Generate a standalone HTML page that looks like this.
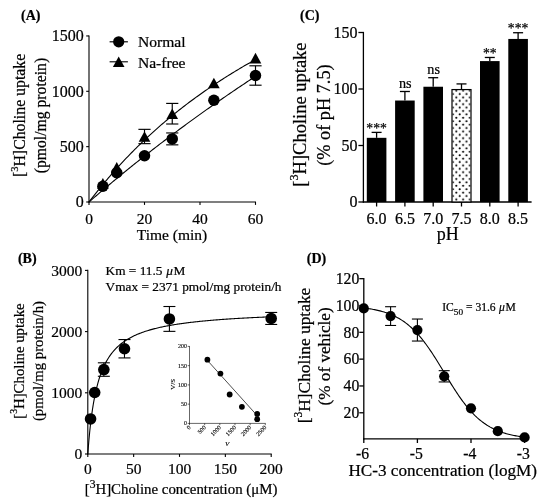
<!DOCTYPE html>
<html><head><meta charset="utf-8"><title>Choline uptake figure</title>
<style>html,body{margin:0;padding:0;background:#fff}svg{display:block}text{font-family:'Liberation Serif', 'DejaVu Serif', serif;fill:#000}text{stroke:#000;stroke-width:0.22px} text.s{stroke-width:0.12px}</style>
</head><body>
<svg width="550" height="504" viewBox="0 0 550 504">
<rect width="550" height="504" fill="#fff"/>
<text x="21.00" y="20.40" font-size="14" text-anchor="start" font-weight="bold">(A)</text>
<line x1="89.00" y1="35.40" x2="89.00" y2="202.55" stroke="#000" stroke-width="1.1" />
<line x1="88.45" y1="202.00" x2="256.05" y2="202.00" stroke="#000" stroke-width="1.1" />
<line x1="86.20" y1="202.00" x2="89.00" y2="202.00" stroke="#000" stroke-width="1.1" />
<text x="83.70" y="207.30" font-size="16" text-anchor="end" >0</text>
<line x1="86.20" y1="146.65" x2="89.00" y2="146.65" stroke="#000" stroke-width="1.1" />
<text x="83.70" y="151.95" font-size="16" text-anchor="end" >500</text>
<line x1="86.20" y1="91.30" x2="89.00" y2="91.30" stroke="#000" stroke-width="1.1" />
<text x="83.70" y="96.60" font-size="16" text-anchor="end" >1000</text>
<line x1="86.20" y1="35.95" x2="89.00" y2="35.95" stroke="#000" stroke-width="1.1" />
<text x="83.70" y="41.25" font-size="16" text-anchor="end" >1500</text>
<line x1="89.00" y1="202.00" x2="89.00" y2="204.90" stroke="#000" stroke-width="1.1" />
<text x="89.00" y="223.80" font-size="15.5" text-anchor="middle" >0</text>
<line x1="144.50" y1="202.00" x2="144.50" y2="204.90" stroke="#000" stroke-width="1.1" />
<text x="144.50" y="223.80" font-size="15.5" text-anchor="middle" >20</text>
<line x1="200.00" y1="202.00" x2="200.00" y2="204.90" stroke="#000" stroke-width="1.1" />
<text x="200.00" y="223.80" font-size="15.5" text-anchor="middle" >40</text>
<line x1="255.50" y1="202.00" x2="255.50" y2="204.90" stroke="#000" stroke-width="1.1" />
<text x="255.50" y="223.80" font-size="15.5" text-anchor="middle" >60</text>
<text x="172.00" y="239.60" font-size="15.5" text-anchor="middle" >Time (min)</text>
<text transform="translate(24.50,115.40) rotate(-90)" font-size="15.8" text-anchor="middle" >[<tspan font-size="0.66em" dy="-0.652em">3</tspan><tspan dy="0.430em">H]Choline uptake</tspan></text>
<text transform="translate(46.40,115.60) rotate(-90)" font-size="15.7" text-anchor="middle" >(pmol/mg protein)</text>
<path d="M89.00,202.00 L90.39,200.79 L91.78,199.59 L93.16,198.39 L94.55,197.20 L95.94,196.00 L97.33,194.81 L98.71,193.63 L100.10,192.44 L101.49,191.26 L102.88,190.08 L104.26,188.91 L105.65,187.73 L107.04,186.56 L108.42,185.40 L109.81,184.23 L111.20,183.07 L112.59,181.92 L113.97,180.76 L115.36,179.61 L116.75,178.46 L118.14,177.31 L119.53,176.17 L120.91,175.03 L122.30,173.89 L123.69,172.76 L125.07,171.62 L126.46,170.49 L127.85,169.37 L129.24,168.24 L130.62,167.12 L132.01,166.00 L133.40,164.89 L134.79,163.77 L136.18,162.66 L137.56,161.56 L138.95,160.45 L140.34,159.35 L141.72,158.25 L143.11,157.15 L144.50,156.06 L145.89,154.97 L147.28,153.88 L148.66,152.79 L150.05,151.71 L151.44,150.63 L152.82,149.55 L154.21,148.47 L155.60,147.40 L156.99,146.33 L158.38,145.26 L159.76,144.19 L161.15,143.13 L162.54,142.07 L163.93,141.01 L165.31,139.96 L166.70,138.90 L168.09,137.85 L169.47,136.81 L170.86,135.76 L172.25,134.72 L173.64,133.68 L175.02,132.64 L176.41,131.60 L177.80,130.57 L179.19,129.54 L180.57,128.51 L181.96,127.48 L183.35,126.46 L184.74,125.44 L186.12,124.42 L187.51,123.40 L188.90,122.39 L190.29,121.38 L191.68,120.37 L193.06,119.36 L194.45,118.36 L195.84,117.35 L197.22,116.35 L198.61,115.36 L200.00,114.36 L201.39,113.37 L202.77,112.38 L204.16,111.39 L205.55,110.40 L206.94,109.42 L208.32,108.44 L209.71,107.46 L211.10,106.48 L212.49,105.50 L213.88,104.53 L215.26,103.56 L216.65,102.59 L218.04,101.63 L219.42,100.66 L220.81,99.70 L222.20,98.74 L223.59,97.78 L224.97,96.83 L226.36,95.87 L227.75,94.92 L229.14,93.97 L230.53,93.03 L231.91,92.08 L233.30,91.14 L234.69,90.20 L236.07,89.26 L237.46,88.33 L238.85,87.39 L240.24,86.46 L241.62,85.53 L243.01,84.60 L244.40,83.68 L245.79,82.75 L247.17,81.83 L248.56,80.91 L249.95,79.99 L251.34,79.08 L252.72,78.17 L254.11,77.25 L255.50,76.34" fill="none" stroke="#000" stroke-width="1.1"/>
<path d="M89.00,202.00 L90.39,200.18 L91.78,198.37 L93.16,196.59 L94.55,194.81 L95.94,193.06 L97.33,191.31 L98.71,189.59 L100.10,187.88 L101.49,186.18 L102.88,184.50 L104.26,182.83 L105.65,181.18 L107.04,179.54 L108.42,177.91 L109.81,176.30 L111.20,174.70 L112.59,173.12 L113.97,171.55 L115.36,169.99 L116.75,168.44 L118.14,166.91 L119.53,165.39 L120.91,163.88 L122.30,162.39 L123.69,160.90 L125.07,159.43 L126.46,157.97 L127.85,156.52 L129.24,155.09 L130.62,153.66 L132.01,152.25 L133.40,150.84 L134.79,149.45 L136.18,148.07 L137.56,146.70 L138.95,145.34 L140.34,143.99 L141.72,142.65 L143.11,141.33 L144.50,140.01 L145.89,138.70 L147.28,137.40 L148.66,136.11 L150.05,134.83 L151.44,133.57 L152.82,132.31 L154.21,131.05 L155.60,129.81 L156.99,128.58 L158.38,127.36 L159.76,126.14 L161.15,124.94 L162.54,123.74 L163.93,122.56 L165.31,121.38 L166.70,120.21 L168.09,119.04 L169.47,117.89 L170.86,116.74 L172.25,115.61 L173.64,114.48 L175.02,113.36 L176.41,112.24 L177.80,111.14 L179.19,110.04 L180.57,108.95 L181.96,107.86 L183.35,106.79 L184.74,105.72 L186.12,104.66 L187.51,103.61 L188.90,102.56 L190.29,101.52 L191.68,100.49 L193.06,99.46 L194.45,98.44 L195.84,97.43 L197.22,96.43 L198.61,95.43 L200.00,94.44 L201.39,93.45 L202.77,92.47 L204.16,91.50 L205.55,90.54 L206.94,89.58 L208.32,88.62 L209.71,87.68 L211.10,86.73 L212.49,85.80 L213.88,84.87 L215.26,83.95 L216.65,83.03 L218.04,82.12 L219.42,81.21 L220.81,80.31 L222.20,79.42 L223.59,78.53 L224.97,77.65 L226.36,76.77 L227.75,75.90 L229.14,75.03 L230.53,74.17 L231.91,73.31 L233.30,72.46 L234.69,71.62 L236.07,70.78 L237.46,69.94 L238.85,69.11 L240.24,68.29 L241.62,67.47 L243.01,66.65 L244.40,65.84 L245.79,65.03 L247.17,64.23 L248.56,63.44 L249.95,62.65 L251.34,61.86 L252.72,61.08 L254.11,60.30 L255.50,59.53" fill="none" stroke="#000" stroke-width="1.1"/>
<line x1="144.50" y1="129.35" x2="144.50" y2="143.65" stroke="#000" stroke-width="1.15" />
<line x1="138.40" y1="129.35" x2="150.60" y2="129.35" stroke="#000" stroke-width="1.15" />
<line x1="138.40" y1="143.65" x2="150.60" y2="143.65" stroke="#000" stroke-width="1.15" />
<line x1="172.25" y1="103.40" x2="172.25" y2="124.00" stroke="#000" stroke-width="1.15" />
<line x1="166.15" y1="103.40" x2="178.35" y2="103.40" stroke="#000" stroke-width="1.15" />
<line x1="166.15" y1="124.00" x2="178.35" y2="124.00" stroke="#000" stroke-width="1.15" />
<line x1="172.25" y1="132.95" x2="172.25" y2="144.85" stroke="#000" stroke-width="1.15" />
<line x1="166.15" y1="132.95" x2="178.35" y2="132.95" stroke="#000" stroke-width="1.15" />
<line x1="166.15" y1="144.85" x2="178.35" y2="144.85" stroke="#000" stroke-width="1.15" />
<line x1="255.50" y1="65.80" x2="255.50" y2="85.20" stroke="#000" stroke-width="1.15" />
<line x1="249.40" y1="65.80" x2="261.60" y2="65.80" stroke="#000" stroke-width="1.15" />
<line x1="249.40" y1="85.20" x2="261.60" y2="85.20" stroke="#000" stroke-width="1.15" />
<polygon points="102.88,178.10 97.08,188.70 108.67,188.70" fill="#000"/>
<polygon points="116.75,162.10 110.95,172.70 122.55,172.70" fill="#000"/>
<polygon points="144.50,131.20 138.70,141.80 150.30,141.80" fill="#000"/>
<polygon points="172.25,108.40 166.45,119.00 178.05,119.00" fill="#000"/>
<polygon points="213.88,77.75 208.07,88.35 219.68,88.35" fill="#000"/>
<polygon points="255.50,52.85 249.70,63.45 261.30,63.45" fill="#000"/>
<circle cx="102.88" cy="186.20" r="5.75" fill="#000"/>
<circle cx="116.75" cy="172.70" r="5.75" fill="#000"/>
<circle cx="144.50" cy="155.70" r="5.75" fill="#000"/>
<circle cx="172.25" cy="138.90" r="5.75" fill="#000"/>
<circle cx="213.88" cy="100.30" r="5.75" fill="#000"/>
<circle cx="255.50" cy="75.50" r="5.75" fill="#000"/>
<line x1="109.60" y1="41.80" x2="127.90" y2="41.80" stroke="#000" stroke-width="1.15" />
<circle cx="118.70" cy="41.80" r="5.6" fill="#000"/>
<line x1="109.60" y1="61.80" x2="127.90" y2="61.80" stroke="#000" stroke-width="1.1" />
<polygon points="118.70,56.50 112.90,67.10 124.50,67.10" fill="#000"/>
<text x="137.90" y="47.40" font-size="15.6" text-anchor="start" >Normal</text>
<text x="137.90" y="68.00" font-size="15.6" text-anchor="start" >Na-free</text>
<text x="300.00" y="20.40" font-size="14" text-anchor="start" font-weight="bold">(C)</text>
<line x1="363.40" y1="31.90" x2="363.40" y2="202.60" stroke="#000" stroke-width="1.3" />
<line x1="362.80" y1="202.00" x2="531.60" y2="202.00" stroke="#000" stroke-width="1.3" />
<line x1="358.40" y1="202.00" x2="363.40" y2="202.00" stroke="#000" stroke-width="1.3" />
<text x="357.40" y="207.40" font-size="16" text-anchor="end" >0</text>
<line x1="358.40" y1="145.50" x2="363.40" y2="145.50" stroke="#000" stroke-width="1.3" />
<text x="357.40" y="150.90" font-size="16" text-anchor="end" >50</text>
<line x1="358.40" y1="89.00" x2="363.40" y2="89.00" stroke="#000" stroke-width="1.3" />
<text x="357.40" y="94.40" font-size="16" text-anchor="end" >100</text>
<line x1="358.40" y1="32.50" x2="363.40" y2="32.50" stroke="#000" stroke-width="1.3" />
<text x="357.40" y="37.90" font-size="16" text-anchor="end" >150</text>
<defs><pattern id="dots" x="451.26" y="88.9" width="6.75" height="6.8" patternUnits="userSpaceOnUse"><circle cx="5.09" cy="1.7" r="1.08" fill="#000"/><circle cx="1.69" cy="5.1" r="1.08" fill="#000"/></pattern></defs>
<line x1="376.60" y1="132.39" x2="376.60" y2="137.82" stroke="#000" stroke-width="1.3" />
<line x1="371.60" y1="132.39" x2="381.60" y2="132.39" stroke="#000" stroke-width="1.3" />
<rect x="366.80" y="137.82" width="19.6" height="64.18" fill="#000"/>
<line x1="376.60" y1="202.00" x2="376.60" y2="206.50" stroke="#000" stroke-width="1.3" />
<text x="376.60" y="223.80" font-size="16" text-anchor="middle" >6.0</text>
<text x="376.60" y="132.69" font-size="13.7" text-anchor="middle" >***</text>
<line x1="404.90" y1="91.49" x2="404.90" y2="100.53" stroke="#000" stroke-width="1.3" />
<line x1="399.90" y1="91.49" x2="409.90" y2="91.49" stroke="#000" stroke-width="1.3" />
<rect x="395.10" y="100.53" width="19.6" height="101.47" fill="#000"/>
<line x1="404.90" y1="202.00" x2="404.90" y2="206.50" stroke="#000" stroke-width="1.3" />
<text x="404.90" y="223.80" font-size="16" text-anchor="middle" >6.5</text>
<text x="405.30" y="88.09" font-size="14.2" text-anchor="middle" >ns</text>
<line x1="433.20" y1="77.70" x2="433.20" y2="86.74" stroke="#000" stroke-width="1.3" />
<line x1="428.20" y1="77.70" x2="438.20" y2="77.70" stroke="#000" stroke-width="1.3" />
<rect x="423.40" y="86.74" width="19.6" height="115.26" fill="#000"/>
<line x1="433.20" y1="202.00" x2="433.20" y2="206.50" stroke="#000" stroke-width="1.3" />
<text x="433.20" y="223.80" font-size="16" text-anchor="middle" >7.0</text>
<text x="433.60" y="74.30" font-size="14.2" text-anchor="middle" >ns</text>
<line x1="461.50" y1="83.92" x2="461.50" y2="89.57" stroke="#000" stroke-width="1.3" />
<line x1="456.50" y1="83.92" x2="466.50" y2="83.92" stroke="#000" stroke-width="1.3" />
<rect x="452.00" y="89.57" width="19" height="112.43" fill="#fff" stroke="#000" stroke-width="1.2"/>
<rect x="452.50" y="90.17" width="18" height="111.23" fill="url(#dots)"/>
<line x1="461.50" y1="202.00" x2="461.50" y2="206.50" stroke="#000" stroke-width="1.3" />
<text x="461.50" y="223.80" font-size="16" text-anchor="middle" >7.5</text>
<line x1="489.80" y1="57.47" x2="489.80" y2="61.09" stroke="#000" stroke-width="1.3" />
<line x1="484.80" y1="57.47" x2="494.80" y2="57.47" stroke="#000" stroke-width="1.3" />
<rect x="480.00" y="61.09" width="19.6" height="140.91" fill="#000"/>
<line x1="489.80" y1="202.00" x2="489.80" y2="206.50" stroke="#000" stroke-width="1.3" />
<text x="489.80" y="223.80" font-size="16" text-anchor="middle" >8.0</text>
<text x="489.80" y="57.77" font-size="13.7" text-anchor="middle" >**</text>
<line x1="518.10" y1="32.73" x2="518.10" y2="38.94" stroke="#000" stroke-width="1.3" />
<line x1="513.10" y1="32.73" x2="523.10" y2="32.73" stroke="#000" stroke-width="1.3" />
<rect x="508.30" y="38.94" width="19.6" height="163.06" fill="#000"/>
<line x1="518.10" y1="202.00" x2="518.10" y2="206.50" stroke="#000" stroke-width="1.3" />
<text x="518.10" y="223.80" font-size="16" text-anchor="middle" >8.5</text>
<text x="518.10" y="33.03" font-size="13.7" text-anchor="middle" >***</text>
<text x="447.70" y="239.80" font-size="18" text-anchor="middle" >pH</text>
<text transform="translate(306.40,114.60) rotate(-90)" font-size="18.5" text-anchor="middle" >[<tspan font-size="0.66em" dy="-0.652em">3</tspan><tspan dy="0.430em">H]Choline uptake</tspan></text>
<text transform="translate(329.50,115.10) rotate(-90)" font-size="18.3" text-anchor="middle" >(% of pH 7.5)</text>
<text x="17.90" y="263.10" font-size="14" text-anchor="start" font-weight="bold">(B)</text>
<line x1="87.80" y1="269.85" x2="87.80" y2="454.55" stroke="#000" stroke-width="1.1" />
<line x1="87.25" y1="454.00" x2="271.75" y2="454.00" stroke="#000" stroke-width="1.1" />
<line x1="85.00" y1="454.00" x2="87.80" y2="454.00" stroke="#000" stroke-width="1.1" />
<text x="82.30" y="459.20" font-size="15.5" text-anchor="end" >0</text>
<line x1="85.00" y1="392.80" x2="87.80" y2="392.80" stroke="#000" stroke-width="1.1" />
<text x="82.30" y="398.00" font-size="15.5" text-anchor="end" >1000</text>
<line x1="85.00" y1="331.60" x2="87.80" y2="331.60" stroke="#000" stroke-width="1.1" />
<text x="82.30" y="336.80" font-size="15.5" text-anchor="end" >2000</text>
<line x1="85.00" y1="270.40" x2="87.80" y2="270.40" stroke="#000" stroke-width="1.1" />
<text x="82.30" y="275.60" font-size="15.5" text-anchor="end" >3000</text>
<line x1="87.80" y1="454.00" x2="87.80" y2="456.90" stroke="#000" stroke-width="1.1" />
<text x="87.80" y="474.30" font-size="15.5" text-anchor="middle" >0</text>
<line x1="133.65" y1="454.00" x2="133.65" y2="456.90" stroke="#000" stroke-width="1.1" />
<text x="133.65" y="474.30" font-size="15.5" text-anchor="middle" >50</text>
<line x1="179.50" y1="454.00" x2="179.50" y2="456.90" stroke="#000" stroke-width="1.1" />
<text x="179.50" y="474.30" font-size="15.5" text-anchor="middle" >100</text>
<line x1="225.35" y1="454.00" x2="225.35" y2="456.90" stroke="#000" stroke-width="1.1" />
<text x="225.35" y="474.30" font-size="15.5" text-anchor="middle" >150</text>
<line x1="271.20" y1="454.00" x2="271.20" y2="456.90" stroke="#000" stroke-width="1.1" />
<text x="271.20" y="474.30" font-size="15.5" text-anchor="middle" >200</text>
<text x="84.70" y="494.20" font-size="14.85" text-anchor="start" >[<tspan font-size="0.78em" dy="-0.564em">3</tspan><tspan dy="0.440em">H]Choline concentration (μM)</tspan></text>
<text transform="translate(23.80,361.10) rotate(-90)" font-size="14.8" text-anchor="middle" >[<tspan font-size="0.66em" dy="-0.652em">3</tspan><tspan dy="0.430em">H]Choline uptake</tspan></text>
<text transform="translate(42.50,361.10) rotate(-90)" font-size="14.75" text-anchor="middle" >(pmol/mg protein/h)</text>
<text x="105.60" y="274.90" font-size="13.3" text-anchor="start" >Km = 11.5 <tspan font-style="italic" dx="0.4">μ</tspan><tspan dx="0.6">M</tspan></text>
<text x="105.60" y="290.70" font-size="13.3" text-anchor="start" >Vmax = 2371 pmol/mg protein/h</text>
<path d="M87.80,454.00 L88.03,450.91 L88.26,447.95 L88.49,445.12 L88.72,442.39 L88.95,439.77 L89.18,437.26 L89.40,434.84 L89.63,432.50 L89.86,430.26 L90.09,428.09 L90.32,426.00 L90.55,423.98 L90.78,422.03 L91.01,420.14 L91.24,418.32 L91.47,416.55 L91.70,414.84 L91.93,413.19 L92.16,411.58 L92.38,410.03 L92.61,408.52 L92.84,407.05 L93.07,405.63 L93.30,404.25 L93.53,402.91 L93.76,401.60 L93.99,400.33 L94.22,399.10 L94.45,397.89 L94.68,396.72 L94.91,395.58 L95.14,394.47 L95.37,393.39 L95.59,392.33 L95.82,391.30 L96.05,390.30 L96.28,389.31 L96.51,388.36 L96.74,387.42 L96.97,386.51 L97.89,383.06 L98.80,379.90 L99.72,377.01 L100.64,374.33 L101.55,371.86 L102.47,369.58 L103.39,367.45 L104.31,365.46 L105.22,363.61 L106.14,361.87 L107.06,360.24 L107.97,358.71 L108.89,357.26 L109.81,355.90 L110.72,354.61 L111.64,353.39 L112.56,352.24 L113.48,351.14 L114.39,350.10 L115.31,349.10 L116.23,348.16 L117.14,347.26 L118.06,346.39 L118.98,345.57 L119.89,344.78 L120.81,344.03 L121.73,343.30 L122.65,342.61 L123.56,341.94 L124.48,341.30 L125.40,340.68 L126.31,340.09 L127.23,339.51 L128.15,338.96 L129.06,338.43 L129.98,337.92 L130.90,337.42 L131.82,336.94 L132.73,336.48 L133.65,336.03 L134.57,335.59 L135.48,335.17 L136.40,334.77 L137.32,334.37 L138.24,333.99 L139.15,333.62 L140.07,333.26 L140.99,332.91 L141.90,332.56 L142.82,332.23 L143.74,331.91 L144.65,331.60 L145.57,331.29 L146.49,331.00 L147.41,330.71 L148.32,330.43 L149.24,330.15 L150.16,329.88 L151.07,329.62 L151.99,329.37 L152.91,329.12 L153.82,328.88 L154.74,328.64 L155.66,328.41 L156.57,328.19 L157.49,327.97 L158.41,327.75 L159.33,327.54 L160.24,327.33 L161.16,327.13 L162.08,326.93 L162.99,326.74 L163.91,326.55 L164.83,326.37 L165.75,326.19 L166.66,326.01 L167.58,325.84 L168.50,325.67 L169.41,325.50 L170.33,325.34 L171.25,325.17 L172.16,325.02 L173.08,324.86 L174.00,324.71 L174.92,324.56 L175.83,324.42 L176.75,324.27 L177.67,324.13 L178.58,324.00 L179.50,323.86 L180.42,323.73 L181.33,323.60 L182.25,323.47 L183.17,323.34 L184.09,323.22 L185.00,323.10 L185.92,322.98 L186.84,322.86 L187.75,322.74 L188.67,322.63 L189.59,322.52 L190.50,322.41 L191.42,322.30 L192.34,322.19 L193.25,322.09 L194.17,321.98 L195.09,321.88 L196.01,321.78 L196.92,321.68 L197.84,321.58 L198.76,321.49 L199.67,321.39 L200.59,321.30 L201.51,321.21 L202.43,321.12 L203.34,321.03 L204.26,320.94 L205.18,320.86 L206.09,320.77 L207.01,320.69 L207.93,320.61 L208.84,320.52 L209.76,320.44 L210.68,320.36 L211.59,320.29 L212.51,320.21 L213.43,320.13 L214.35,320.06 L215.26,319.98 L216.18,319.91 L217.10,319.84 L218.01,319.77 L218.93,319.70 L219.85,319.63 L220.76,319.56 L221.68,319.49 L222.60,319.42 L223.52,319.36 L224.43,319.29 L225.35,319.23 L226.27,319.16 L227.18,319.10 L228.10,319.04 L229.02,318.98 L229.94,318.92 L230.85,318.86 L231.77,318.80 L232.69,318.74 L233.60,318.68 L234.52,318.62 L235.44,318.57 L236.35,318.51 L237.27,318.46 L238.19,318.40 L239.11,318.35 L240.02,318.30 L240.94,318.24 L241.86,318.19 L242.77,318.14 L243.69,318.09 L244.61,318.04 L245.52,317.99 L246.44,317.94 L247.36,317.89 L248.27,317.84 L249.19,317.79 L250.11,317.75 L251.03,317.70 L251.94,317.65 L252.86,317.61 L253.78,317.56 L254.69,317.52 L255.61,317.47 L256.53,317.43 L257.44,317.39 L258.36,317.34 L259.28,317.30 L260.20,317.26 L261.11,317.22 L262.03,317.18 L262.95,317.14 L263.86,317.09 L264.78,317.05 L265.70,317.02 L266.62,316.98 L267.53,316.94 L268.45,316.90 L269.37,316.86 L270.28,316.82 L271.20,316.78" fill="none" stroke="#000" stroke-width="1.1"/>
<line x1="103.85" y1="362.81" x2="103.85" y2="376.28" stroke="#000" stroke-width="1.1" />
<line x1="97.85" y1="362.81" x2="109.85" y2="362.81" stroke="#000" stroke-width="1.1" />
<line x1="97.85" y1="376.28" x2="109.85" y2="376.28" stroke="#000" stroke-width="1.1" />
<line x1="124.48" y1="339.56" x2="124.48" y2="357.92" stroke="#000" stroke-width="1.1" />
<line x1="118.48" y1="339.56" x2="130.48" y2="339.56" stroke="#000" stroke-width="1.1" />
<line x1="118.48" y1="357.92" x2="130.48" y2="357.92" stroke="#000" stroke-width="1.1" />
<line x1="169.41" y1="306.51" x2="169.41" y2="331.36" stroke="#000" stroke-width="1.1" />
<line x1="163.41" y1="306.51" x2="175.41" y2="306.51" stroke="#000" stroke-width="1.1" />
<line x1="163.41" y1="331.36" x2="175.41" y2="331.36" stroke="#000" stroke-width="1.1" />
<line x1="271.20" y1="312.44" x2="271.20" y2="324.44" stroke="#000" stroke-width="1.1" />
<line x1="265.20" y1="312.44" x2="277.20" y2="312.44" stroke="#000" stroke-width="1.1" />
<line x1="265.20" y1="324.44" x2="277.20" y2="324.44" stroke="#000" stroke-width="1.1" />
<circle cx="90.55" cy="418.93" r="5.8" fill="#000"/>
<circle cx="94.68" cy="392.49" r="5.8" fill="#000"/>
<circle cx="103.85" cy="369.54" r="5.8" fill="#000"/>
<circle cx="124.48" cy="348.74" r="5.8" fill="#000"/>
<circle cx="169.41" cy="318.93" r="5.8" fill="#000"/>
<circle cx="271.20" cy="318.44" r="5.8" fill="#000"/>
<line x1="189.50" y1="346.10" x2="189.50" y2="423.70" stroke="#000" stroke-width="0.6" />
<line x1="189.20" y1="423.40" x2="265.60" y2="423.40" stroke="#000" stroke-width="0.6" />
<line x1="187.70" y1="423.40" x2="189.50" y2="423.40" stroke="#000" stroke-width="0.6" />
<text x="186.90" y="425.40" font-size="6" text-anchor="end" class="s">0</text>
<line x1="187.70" y1="404.15" x2="189.50" y2="404.15" stroke="#000" stroke-width="0.6" />
<text x="186.90" y="406.15" font-size="6" text-anchor="end" class="s">50</text>
<line x1="187.70" y1="384.90" x2="189.50" y2="384.90" stroke="#000" stroke-width="0.6" />
<text x="186.90" y="386.90" font-size="6" text-anchor="end" class="s">100</text>
<line x1="187.70" y1="365.65" x2="189.50" y2="365.65" stroke="#000" stroke-width="0.6" />
<text x="186.90" y="367.65" font-size="6" text-anchor="end" class="s">150</text>
<line x1="187.70" y1="346.40" x2="189.50" y2="346.40" stroke="#000" stroke-width="0.6" />
<text x="186.90" y="348.40" font-size="6" text-anchor="end" class="s">200</text>
<line x1="189.50" y1="423.40" x2="189.50" y2="425.20" stroke="#000" stroke-width="0.6" />
<text transform="translate(191.10,428.00) rotate(-45)" font-size="6" text-anchor="end" class="s">0</text>
<line x1="204.66" y1="423.40" x2="204.66" y2="425.20" stroke="#000" stroke-width="0.6" />
<text transform="translate(206.26,428.00) rotate(-45)" font-size="6" text-anchor="end" class="s">500</text>
<line x1="219.82" y1="423.40" x2="219.82" y2="425.20" stroke="#000" stroke-width="0.6" />
<text transform="translate(221.42,428.00) rotate(-45)" font-size="6" text-anchor="end" class="s">1000</text>
<line x1="234.98" y1="423.40" x2="234.98" y2="425.20" stroke="#000" stroke-width="0.6" />
<text transform="translate(236.58,428.00) rotate(-45)" font-size="6" text-anchor="end" class="s">1500</text>
<line x1="250.14" y1="423.40" x2="250.14" y2="425.20" stroke="#000" stroke-width="0.6" />
<text transform="translate(251.74,428.00) rotate(-45)" font-size="6" text-anchor="end" class="s">2000</text>
<line x1="265.30" y1="423.40" x2="265.30" y2="425.20" stroke="#000" stroke-width="0.6" />
<text transform="translate(266.90,428.00) rotate(-45)" font-size="6" text-anchor="end" class="s">2500</text>
<text x="227.10" y="446.40" font-size="7" text-anchor="middle" font-style="italic" class="s">V</text>
<text transform="translate(174.60,384.30) rotate(-90)" font-size="7" text-anchor="middle" class="s">V/S</text>
<line x1="205.50" y1="358.30" x2="258.00" y2="416.50" stroke="#000" stroke-width="0.7" />
<circle cx="207.39" cy="359.68" r="2.9" fill="#000"/>
<circle cx="220.43" cy="373.54" r="2.9" fill="#000"/>
<circle cx="229.67" cy="394.52" r="2.9" fill="#000"/>
<circle cx="241.89" cy="406.84" r="2.9" fill="#000"/>
<circle cx="257.17" cy="413.93" r="2.9" fill="#000"/>
<circle cx="257.17" cy="419.16" r="2.9" fill="#000"/>
<text x="306.80" y="263.10" font-size="14" text-anchor="start" font-weight="bold">(D)</text>
<line x1="363.80" y1="278.08" x2="363.80" y2="439.40" stroke="#000" stroke-width="1.3" />
<line x1="363.20" y1="438.80" x2="525.20" y2="438.80" stroke="#000" stroke-width="1.3" />
<line x1="359.30" y1="412.78" x2="363.80" y2="412.78" stroke="#000" stroke-width="1.3" />
<text x="359.30" y="418.08" font-size="15.7" text-anchor="end" >20</text>
<line x1="359.30" y1="385.96" x2="363.80" y2="385.96" stroke="#000" stroke-width="1.3" />
<text x="359.30" y="391.26" font-size="15.7" text-anchor="end" >40</text>
<line x1="359.30" y1="359.14" x2="363.80" y2="359.14" stroke="#000" stroke-width="1.3" />
<text x="359.30" y="364.44" font-size="15.7" text-anchor="end" >60</text>
<line x1="359.30" y1="332.32" x2="363.80" y2="332.32" stroke="#000" stroke-width="1.3" />
<text x="359.30" y="337.62" font-size="15.7" text-anchor="end" >80</text>
<line x1="359.30" y1="305.50" x2="363.80" y2="305.50" stroke="#000" stroke-width="1.3" />
<text x="359.30" y="310.80" font-size="15.7" text-anchor="end" >100</text>
<line x1="359.30" y1="278.68" x2="363.80" y2="278.68" stroke="#000" stroke-width="1.3" />
<text x="359.30" y="283.98" font-size="15.7" text-anchor="end" >120</text>
<line x1="363.80" y1="438.80" x2="363.80" y2="443.00" stroke="#000" stroke-width="1.3" />
<text x="362.60" y="459.30" font-size="15.7" text-anchor="middle" >-6</text>
<line x1="417.40" y1="438.80" x2="417.40" y2="443.00" stroke="#000" stroke-width="1.3" />
<text x="416.20" y="459.30" font-size="15.7" text-anchor="middle" >-5</text>
<line x1="471.00" y1="438.80" x2="471.00" y2="443.00" stroke="#000" stroke-width="1.3" />
<text x="469.80" y="459.30" font-size="15.7" text-anchor="middle" >-4</text>
<line x1="524.60" y1="438.80" x2="524.60" y2="443.00" stroke="#000" stroke-width="1.3" />
<text x="523.40" y="459.30" font-size="15.7" text-anchor="middle" >-3</text>
<text x="442.75" y="476.20" font-size="17.17" text-anchor="middle" >HC-3 concentration (logM)</text>
<text transform="translate(309.80,355.50) rotate(-90)" font-size="17.4" text-anchor="middle" >[<tspan font-size="0.66em" dy="-0.652em">3</tspan><tspan dy="0.430em">H]Choline uptake</tspan></text>
<text transform="translate(330.00,356.40) rotate(-90)" font-size="17.15" text-anchor="middle" >(% of vehicle)</text>
<text x="442.20" y="311.10" font-size="11.6" text-anchor="start" >IC<tspan font-size="0.8em" dy="0.4em">50</tspan><tspan dy="-0.32em"> = 31.6 </tspan><tspan font-style="italic" dx="0.5">μ</tspan><tspan dx="0.7">M</tspan></text>
<path d="M363.80,307.98 L364.87,308.11 L365.94,308.25 L367.02,308.40 L368.09,308.55 L369.16,308.71 L370.23,308.88 L371.30,309.06 L372.38,309.25 L373.45,309.45 L374.52,309.66 L375.59,309.88 L376.66,310.11 L377.74,310.35 L378.81,310.60 L379.88,310.87 L380.95,311.15 L382.02,311.44 L383.10,311.75 L384.17,312.07 L385.24,312.41 L386.31,312.77 L387.38,313.14 L388.46,313.53 L389.53,313.94 L390.60,314.37 L391.67,314.81 L392.74,315.28 L393.82,315.78 L394.89,316.29 L395.96,316.83 L397.03,317.39 L398.10,317.97 L399.18,318.59 L400.25,319.23 L401.32,319.89 L402.39,320.59 L403.46,321.31 L404.54,322.06 L405.61,322.85 L406.68,323.66 L407.75,324.51 L408.82,325.39 L409.90,326.31 L410.97,327.25 L412.04,328.24 L413.11,329.25 L414.18,330.31 L415.26,331.40 L416.33,332.52 L417.40,333.68 L418.47,334.88 L419.54,336.11 L420.62,337.38 L421.69,338.69 L422.76,340.03 L423.83,341.40 L424.90,342.81 L425.98,344.25 L427.05,345.73 L428.12,347.24 L429.19,348.77 L430.26,350.34 L431.34,351.93 L432.41,353.55 L433.48,355.20 L434.55,356.87 L435.62,358.55 L436.70,360.26 L437.77,361.99 L438.84,363.72 L439.91,365.47 L440.98,367.23 L442.06,369.00 L443.13,370.77 L444.20,372.55 L445.27,374.33 L446.34,376.10 L447.42,377.87 L448.49,379.63 L449.56,381.38 L450.63,383.11 L451.70,384.84 L452.78,386.55 L453.85,388.23 L454.92,389.90 L455.99,391.55 L457.06,393.17 L458.14,394.76 L459.21,396.33 L460.28,397.86 L461.35,399.37 L462.42,400.85 L463.50,402.29 L464.57,403.70 L465.64,405.07 L466.71,406.41 L467.78,407.72 L468.86,408.99 L469.93,410.22 L471.00,411.42 L472.07,412.58 L473.14,413.70 L474.22,414.79 L475.29,415.85 L476.36,416.86 L477.43,417.85 L478.50,418.79 L479.58,419.71 L480.65,420.59 L481.72,421.44 L482.79,422.25 L483.86,423.04 L484.94,423.79 L486.01,424.51 L487.08,425.21 L488.15,425.87 L489.22,426.51 L490.30,427.13 L491.37,427.71 L492.44,428.27 L493.51,428.81 L494.58,429.32 L495.66,429.82 L496.73,430.29 L497.80,430.73 L498.87,431.16 L499.94,431.57 L501.02,431.96 L502.09,432.33 L503.16,432.69 L504.23,433.03 L505.30,433.35 L506.38,433.66 L507.45,433.95 L508.52,434.23 L509.59,434.50 L510.66,434.75 L511.74,434.99 L512.81,435.22 L513.88,435.44 L514.95,435.65 L516.02,435.85 L517.10,436.04 L518.17,436.22 L519.24,436.39 L520.31,436.55 L521.38,436.70 L522.46,436.85 L523.53,436.99 L524.60,437.12" fill="none" stroke="#000" stroke-width="1.1"/>
<line x1="390.60" y1="306.71" x2="390.60" y2="325.48" stroke="#000" stroke-width="1.1" />
<line x1="385.10" y1="306.71" x2="396.10" y2="306.71" stroke="#000" stroke-width="1.1" />
<line x1="385.10" y1="325.48" x2="396.10" y2="325.48" stroke="#000" stroke-width="1.1" />
<line x1="417.40" y1="319.04" x2="417.40" y2="341.04" stroke="#000" stroke-width="1.1" />
<line x1="411.90" y1="319.04" x2="422.90" y2="319.04" stroke="#000" stroke-width="1.1" />
<line x1="411.90" y1="341.04" x2="422.90" y2="341.04" stroke="#000" stroke-width="1.1" />
<line x1="444.20" y1="370.67" x2="444.20" y2="381.94" stroke="#000" stroke-width="1.1" />
<line x1="438.70" y1="370.67" x2="449.70" y2="370.67" stroke="#000" stroke-width="1.1" />
<line x1="438.70" y1="381.94" x2="449.70" y2="381.94" stroke="#000" stroke-width="1.1" />
<circle cx="363.80" cy="308.45" r="5.1" fill="#000"/>
<circle cx="390.60" cy="316.09" r="5.1" fill="#000"/>
<circle cx="417.40" cy="330.04" r="5.1" fill="#000"/>
<circle cx="444.20" cy="376.30" r="5.1" fill="#000"/>
<circle cx="471.00" cy="408.35" r="5.1" fill="#000"/>
<circle cx="497.80" cy="431.15" r="5.1" fill="#000"/>
<circle cx="524.60" cy="437.45" r="5.1" fill="#000"/>
</svg>
</body></html>
